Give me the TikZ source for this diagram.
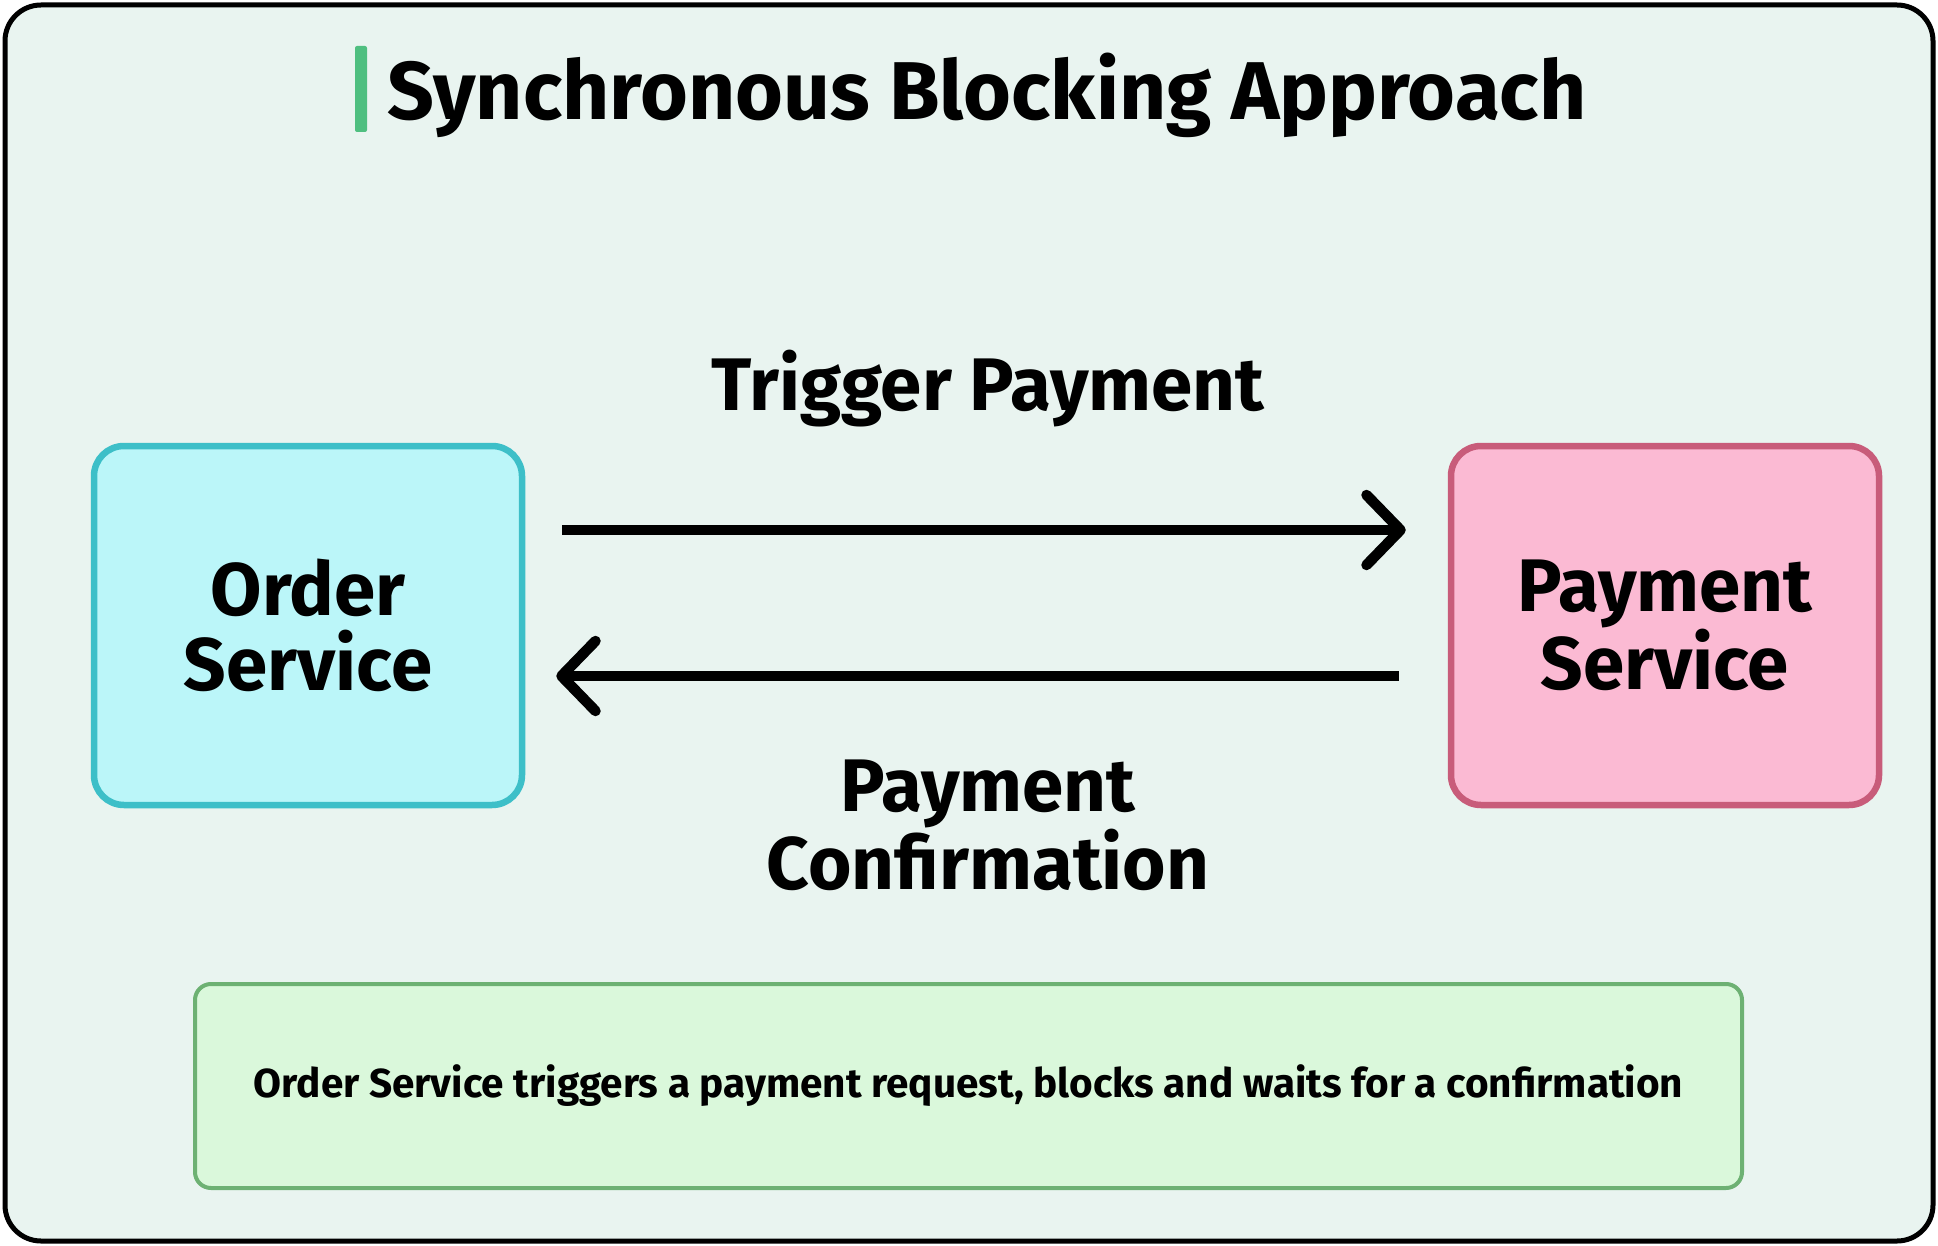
\documentclass[tikz,border=0pt]{standalone}
\usepackage{fontspec}
\setmainfont{Fira Sans}
\usetikzlibrary{arrows.meta}
\definecolor{bgc}{HTML}{E9F4F0}
\definecolor{barc}{HTML}{4FBF80}
\definecolor{ordfill}{HTML}{BBF6F9}
\definecolor{orddraw}{HTML}{3DBFC8}
\definecolor{payfill}{HTML}{FBBAD3}
\definecolor{paydraw}{HTML}{C85C7A}
\definecolor{notefill}{HTML}{DAF8DB}
\definecolor{notedraw}{HTML}{6DB173}
\tikzset{
  svc/.style={draw, line width=6.5pt, rounded corners=30pt, minimum width=428pt, minimum height=359pt,
    align=center, inner sep=0pt, font=\fontsize{74.5}{75}\selectfont\bfseries},
  lbl/.style={align=center, inner sep=0pt, font=\fontsize{74.5}{76}\selectfont\bfseries},
  arr/.style={line width=10.5pt, -{Straight Barb[length=34pt, width=70pt, round]}},
}
\begin{document}
\begin{tikzpicture}[x=1pt,y=-1pt]
\useasboundingbox (0,0) rectangle (1938,1246);
\node[draw=black, fill=bgc, line width=5pt, rounded corners=36pt, minimum width=1928pt, minimum height=1236pt, inner sep=0pt] (frame) at (969,623) {};
\node[fill=barc, rounded corners=2pt, minimum width=12pt, minimum height=86pt, inner sep=0pt] (bar) at (361,89) {};
\node[anchor=base west, inner sep=0pt, font=\fontsize{82}{90}\selectfont\bfseries] (title) at (387,120) {Synchronous Blocking Approach};
\node[svc, fill=ordfill, draw=orddraw] (order) at (308,625.5) {Order\\Service};
\node[svc, fill=payfill, draw=paydraw] (pay) at (1665,625.5) {Payment\\Service};
\node[lbl, anchor=base] (trig) at (988,410) {Trigger Payment};
\node[lbl, anchor=base] (conf) at (988,889) {Payment\\Confirmation};
\draw[arr, shorten <=37pt, shorten >=42pt] ([yshift=95.5pt]order.east) -- ([yshift=95.5pt]pay.west);
\draw[arr, shorten <=49pt, shorten >=31pt] ([yshift=-50.5pt]pay.west) -- ([yshift=-50.5pt]order.east);
\node[draw=notedraw, fill=notefill, line width=4pt, rounded corners=16pt, minimum width=1547pt, minimum height=204pt, inner sep=0pt,
  font=\fontsize{40.5}{44}\selectfont\bfseries] (note) at (968.5,1086) {Order Service triggers a payment request, blocks and waits for a confirmation};
\end{tikzpicture}
\end{document}
